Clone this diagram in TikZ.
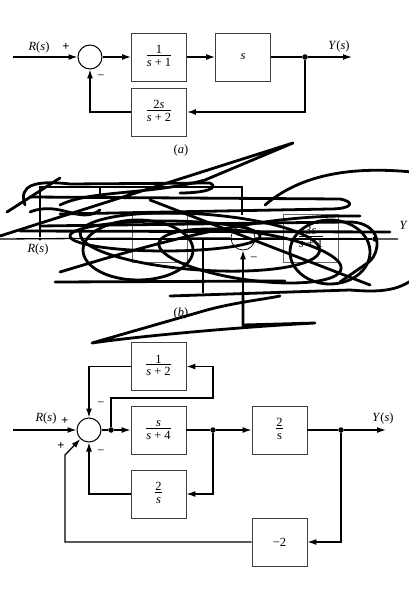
\documentclass[tikz,border=0pt]{standalone}
\usepackage{fontspec}
\setmainfont{Liberation Serif}
\usetikzlibrary{arrows.meta}

\newcommand{\blkfrac}[2]{\begin{tabular}{@{}c@{}}#1\\[-3pt]\hline\rule{0pt}{11pt}#2\end{tabular}}

\tikzset{
  block/.style={draw=black!75, line width=0.9pt, minimum width=55pt, minimum height=48pt, inner sep=0pt},
  sum/.style={draw, circle, line width=1pt, minimum size=24pt, inner sep=0pt},
  dot/.style={circle, fill, inner sep=0pt, minimum size=5.5pt},
  sig/.style={line width=1.3pt, -{Latex[length=9pt,width=6pt]}},
  wire/.style={line width=1.3pt},
  lbl/.style={inner sep=0pt},
  scrib/.style={line width=2.8pt, line cap=round, line join=round},
}

\begin{document}
\begin{tikzpicture}[x=1pt,y=-1pt, font=\fontsize{12.5}{14}\selectfont]
    \useasboundingbox[fill=white] (0,0) rectangle (408,591);

    % (a)
    \node[sum] at (90,57) (Sa) {};
    \node[block] at (159,57) (Ga1) {\blkfrac{1}{\textit{s} + 1}};
    \node[block] at (243,57) (Ga2) {\textit{s}};
    \node[block] at (159,112) (Ha) {\blkfrac{2\textit{s}}{\textit{s} + 2}};
    \node[dot] at (305,57) (Pa) {};
    \coordinate (Ra) at (13,57);
    \coordinate (Ya) at (352,57);
    \draw[sig] (Ra) -- (Sa);
    \draw[sig] (Sa) -- (Ga1);
    \draw[sig] (Ga1) -- (Ga2);
    \draw[wire] (Ga2) -- (Pa);
    \draw[sig] (Pa) -- (Ya);
    \draw[sig] (Pa) |- (Ha);
    \draw[sig] (Ha) -| (Sa);
    \node[lbl] at (39,47) (RaL) {\textit{R}(\textit{s})};
    \node[lbl] at (66,47) (pa) {\textbf{+}};
    \node[lbl] at (101,77) (ma) {−};
    \node[lbl] at (339,46) (YaL) {\textit{Y}(\textit{s})};
    \node[lbl] at (181,150) (capa) {(\textit{a})};

    % (b)
    \node[block, draw=black!60] at (160,238) (Gb1) {};
    \node[sum, line width=0.7pt] at (243,238) (Sb) {};
    \node[block, draw=black!60] at (311,238) (Gb2) {\blkfrac{3\textit{s}}{\textit{s} + 1}};
    \node[dot] at (375,239) (Pb) {};
    \node[dot, minimum size=3pt] at (40,239) (Qb) {};
    \coordinate (Rb) at (0,239);
    \coordinate (Yb) at (398,239);
    \coordinate (Ub) at (243,300);
    \draw[wire] (Rb) -- (Gb1) -- (Sb) -- (Gb2) -- (Pb) -- (Yb);
    \draw[wire] (Qb) |- (242,187) -- (242,215);
    \draw[wire] (100,187) -- (100,199);
    \draw[wire] (89,240) |- (Pb);
    \draw[wire] (203,240) -- (203,293);
    \draw[sig] (Ub) -- (Sb);
    \node[lbl] at (38,249) (RbL) {\textit{R}(\textit{s})};
    \node[lbl] at (254,259) (mb) {−};
    \node[lbl, anchor=east] at (408,225) (YbL) {\textit{Y}};
    \node[lbl] at (181,313) (capb) {(\textit{b})};

    % scribble over (b)
    \draw[scrib] (0,236) -- (293,143) -- (205,180) .. controls (150,195) and (90,190) .. (60,205);
    \draw[scrib] (7,212) -- (60,178);
    \draw[scrib] (25,205) .. controls (18,185) and (35,180) .. (70,184) -- (210,183) .. controls (220,188) and (205,193) .. (180,193);
    \draw[scrib] (30,197) -- (340,199) .. controls (356,202) and (352,209) .. (330,209) -- (60,214);
    \draw[scrib] (20,231) -- (390,232);
    \draw[scrib] (40,226) -- (345,222) .. controls (385,220) and (382,255) .. (366,264) -- (340,282);
    \draw[scrib, rotate around={-4:(200,242)}] (200,242) ellipse [x radius=120, y radius=28];
    \draw[scrib, rotate around={-8:(250,256)}] (250,256) ellipse [x radius=92, y radius=24];
    \draw[scrib] (330,252) ellipse [x radius=40, y radius=32];
    \draw[scrib] (138,250) ellipse [x radius=55, y radius=30];
    \draw[scrib] (165,236) ellipse [x radius=95, y radius=15];
    \draw[scrib] (150,200) -- (370,285);
    \draw[scrib] (55,282) -- (285,281);
    \draw[scrib] (60,272) .. controls (150,245) and (250,214) .. (360,216);
    \draw[scrib] (265,205) .. controls (300,175) and (350,166) .. (412,172);
    \draw[scrib] (412,280) .. controls (395,292) and (375,292) .. (350,290) -- (170,296);
    \draw[scrib] (30,212) .. controls (60,200) and (80,225) .. (100,210);
    \draw[scrib] (243,292) -- (243,325) -- (315,323) .. controls (240,327) and (140,336) .. (92,343) -- (200,312) .. controls (230,303) and (260,300) .. (280,296);

    % (c)
    \node[sum] at (89,430) (Sc) {};
    \node[block] at (158.5,366.5) (Hc1) {\blkfrac{1}{\textit{s} + 2}};
    \node[block] at (158.5,430) (Gc1) {\blkfrac{\textit{s}}{\textit{s} + 4}};
    \node[block] at (158.5,494) (Hc2) {\blkfrac{2}{\textit{s}}};
    \node[block] at (279.5,430) (Gc2) {\blkfrac{2}{s}};
    \node[block] at (279.5,542) (Hc3) {−2};
    \node[dot] at (111,430) (Pc1) {};
    \node[dot] at (213,430) (Pc2) {};
    \node[dot] at (341,430) (Pc3) {};
    \coordinate (Rc) at (13,430);
    \coordinate (Yc) at (386,430);
    \coordinate (Kc1) at (213,398);
    \coordinate (Kc2) at (65,455);
    \draw[sig] (Rc) -- (Sc);
    \draw[wire] (Sc) -- (Pc1);
    \draw[sig] (Pc1) -- (Gc1);
    \draw[wire] (Gc1) -- (Pc2);
    \draw[sig] (Pc2) -- (Gc2);
    \draw[wire] (Gc2) -- (Pc3);
    \draw[sig] (Pc3) -- (Yc);
    \draw[sig] (Pc1) |- (Kc1) |- (Hc1);
    \draw[sig] (Hc1) -| (Sc);
    \draw[sig] (Pc2) |- (Hc2);
    \draw[sig] (Hc2) -| (Sc);
    \draw[sig] (Pc3) |- (Hc3);
    \draw[sig] (Hc3) -| (Kc2) -- (Sc);
    \node[lbl] at (46,418) (RcL) {\textit{R}(\textit{s})};
    \node[lbl] at (65,421) (pc1) {\textbf{+}};
    \node[lbl] at (61,446) (pc2) {\textbf{+}};
    \node[lbl] at (101,404) (mc1) {−};
    \node[lbl] at (101,452) (mc2) {−};
    \node[lbl] at (383,418) (YcL) {\textit{Y}(\textit{s})};
\end{tikzpicture}
\end{document}
